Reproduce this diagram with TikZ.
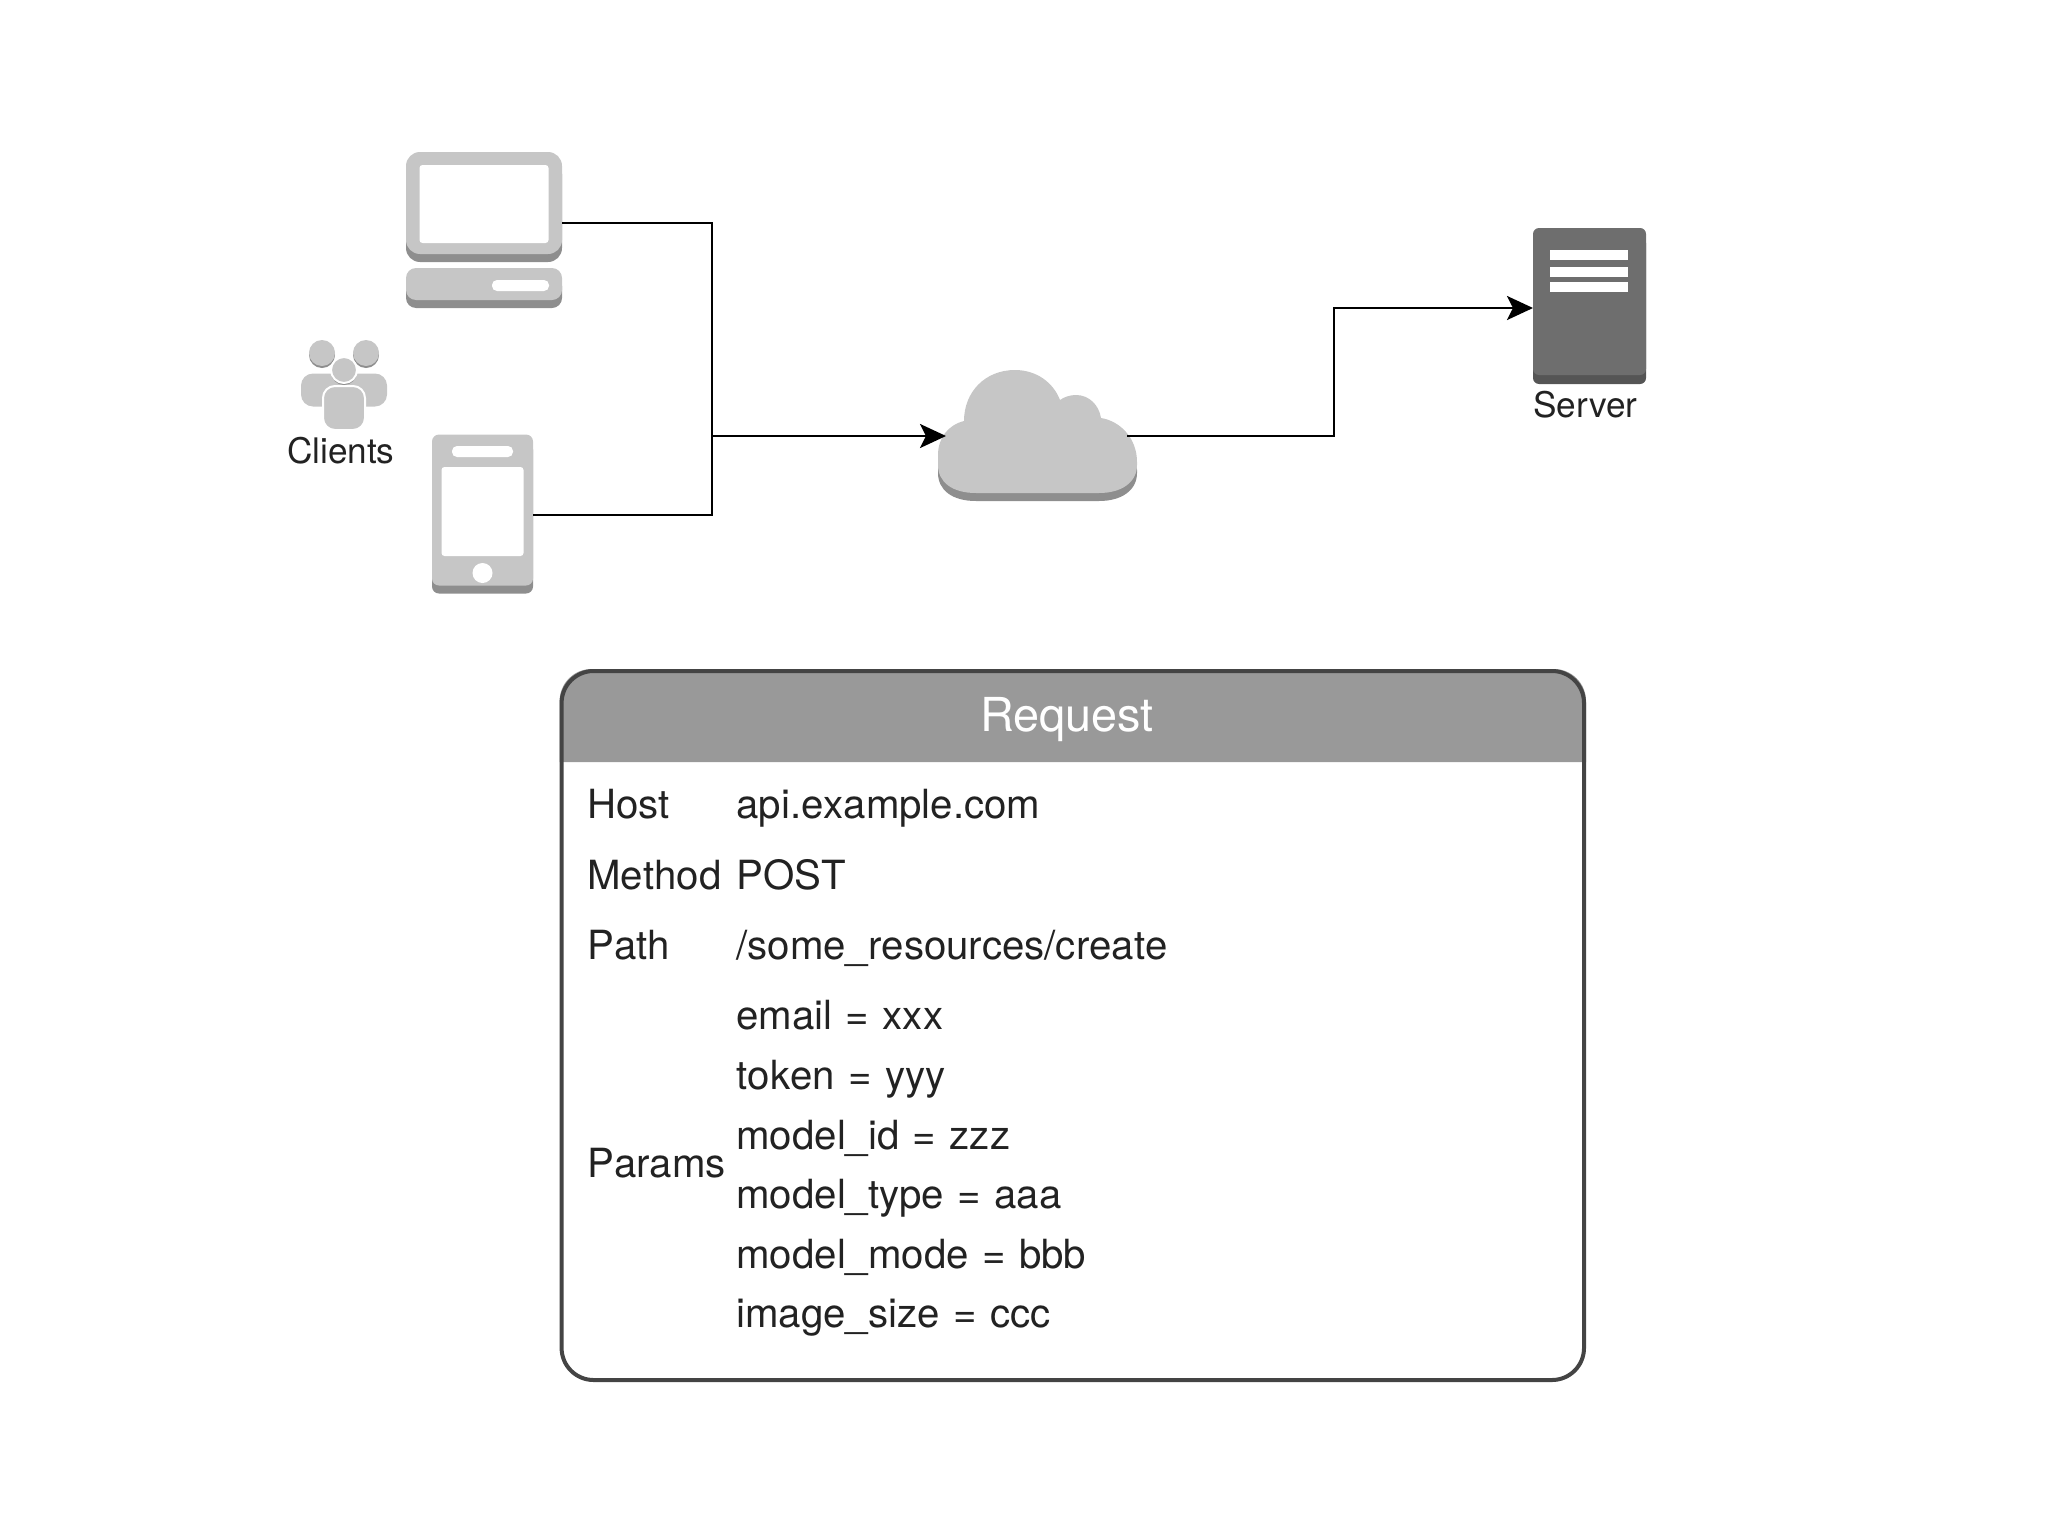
\documentclass[tikz,border=0pt]{standalone}
\usepackage{fontspec}
\setmainfont{TeX Gyre Heros}
\usetikzlibrary{arrows.meta,shadows,backgrounds}
\definecolor{iconfill}{HTML}{C6C6C6}
\definecolor{iconband}{HTML}{8E8E8E}
\definecolor{serverfill}{HTML}{6E6E6E}
\definecolor{serverband}{HTML}{555555}
\definecolor{headfill}{HTML}{999999}
\definecolor{panelline}{HTML}{444444}
\definecolor{inktext}{HTML}{222222}
\newcommand{\bodysize}{\fontsize{20.1pt}{29.8pt}\selectfont\addfontfeature{Kerning=Off}}
\tikzstyle{icon} = [rectangle, fill=iconfill, inner sep=0, outer sep=0, rounded corners=7pt, general shadow={shadow yshift=-4pt, fill=iconband, opacity=1}]
\tikzstyle{hole} = [rectangle, fill=white, inner sep=0, rounded corners=1.5pt]
\tikzstyle{slot} = [rectangle, fill=white, inner sep=0, rounded corners=2.5pt, minimum height=5.5pt]
\tikzstyle{bar} = [rectangle, fill=white, inner sep=0, minimum width=39pt, minimum height=5pt]
\tikzstyle{head} = [circle, fill=iconfill, inner sep=0, general shadow={shadow yshift=-1pt, fill=iconband, opacity=1}]
\tikzstyle{torso} = [rectangle, fill=iconfill, inner sep=0, rounded corners=6pt, minimum width=21pt]
\tikzstyle{caption} = [inner sep=0, text=inktext, font=\fontsize{17.6pt}{21pt}\selectfont]
\tikzstyle{hub} = [inner sep=0, outer sep=0, minimum width=90.5pt, minimum height=0pt]
\tikzstyle{panel} = [draw=panelline, line width=2pt, rectangle, rounded corners=16pt, minimum width=511.2pt, minimum height=354.5pt]
\tikzstyle{rowkey} = [inner sep=0, text=inktext, font=\bodysize, text width=70pt, align=left, text height=15pt, text depth=5pt]
\tikzstyle{rowval} = [inner sep=0, text=inktext, font=\bodysize, text width=220pt, align=left, text height=15pt, text depth=5pt]
\begin{document}
\begin{tikzpicture}[x=0.5pt, y=-0.5pt, >={Stealth[length=13pt,width=12pt,inset=3pt]}, line width=1.4pt]
    \useasboundingbox (0,0) rectangle (2048,1536);
    \node [icon, minimum width=78pt, minimum height=51pt] (monitor) at (484,203) {};
    \node [hole, minimum width=64.5pt, minimum height=39pt] (display) at (484,204) {};
    \node [icon, rounded corners=5pt, below of=monitor, node distance=40.5pt, minimum width=78pt, minimum height=16pt] (tower) {};
    \node [slot, right of=tower, node distance=18.25pt, minimum width=28.5pt, yshift=-0.75pt] (drive) {};

    \node [icon, rounded corners=3.5pt, below of=monitor, node distance=153.5pt, xshift=-0.75pt, minimum width=50.5pt, minimum height=75.5pt] (phone) {};
    \node [hole, minimum width=41pt, minimum height=44.5pt, below of=phone, node distance=0.75pt] (touch) {};
    \node [slot, minimum width=30.5pt, above of=phone, node distance=29.25pt] (speaker) {};
    \node [circle, fill=white, inner sep=0, minimum size=10pt, below of=phone, node distance=31.5pt] (button) {};

    \node [torso, minimum height=16.5pt] (torsoleft) at (322,390) {};
    \node [torso, minimum height=16.5pt, right of=torsoleft, node distance=22pt] (torsoright) {};
    \node [head, minimum size=13pt] (headleft) at (322,353) {};
    \node [head, minimum size=13pt, right of=headleft, node distance=22pt] (headright) {};
    \node [torso, draw=white, line width=1pt, minimum height=22pt] (torsofront) at (344,408) {};
    \node [head, draw=white, line width=1pt, minimum size=13pt] (headfront) at (344,370) {};
    \node [caption, below of=torsofront, node distance=21.5pt, xshift=-1.6pt] (clients) {Clients};

    \path [fill=iconfill, general shadow={shadow yshift=-4pt, fill=iconband, opacity=1}]
        (1099,493) -- (976,493) .. controls (952,493) and (938,482) .. (938,465) -- (938,455)
        .. controls (938,438) and (948,425) .. (964,421) .. controls (964,392) and (985,370) .. (1015,370)
        .. controls (1036,370) and (1053,382) .. (1060,400) .. controls (1064,397) and (1070,395) .. (1076,395)
        .. controls (1089,395) and (1099,405) .. (1101,418) .. controls (1120,421) and (1137,438) .. (1137,462)
        -- (1137,465) .. controls (1137,482) and (1122,493) .. (1099,493) -- cycle;
    \node [hub] (cloud) at (1036.5,436) {};
    \coordinate (merge) at (712,436);
    \coordinate (elbow) at (1334,370);

    \node [rectangle, fill=serverfill, inner sep=0, outer sep=0, rounded corners=3pt, minimum width=56.5pt, minimum height=73.5pt,
        general shadow={shadow yshift=-4.5pt, fill=serverband, opacity=1}] (server) at (1589.5,301.5) {};
    \node [bar, above of=server, node distance=23.25pt, xshift=-0.5pt] (barone) {};
    \node [bar, below of=barone, node distance=8.25pt] (bartwo) {};
    \node [bar, below of=bartwo, node distance=7.75pt] (barthree) {};
    \node [caption, below of=server, node distance=51.7pt, xshift=-2pt] (servername) {Server};

    \draw ([yshift=-10pt]monitor.east) -| (merge);
    \draw ([yshift=-2.5pt]phone.east) -| (merge);
    \draw [->] (merge) -- (cloud.west);
    \draw [->] (cloud.east) -| (elbow) |- ([yshift=-3.25pt]server.west);

    \node [panel] (request) at (1072.8,1025.5) {};
    \coordinate [above of=request, node distance=131.75pt] (rule);
    \begin{scope}[on background layer]
        \fill [headfill] (request.west |- rule) [rounded corners=16pt] -- (request.north west) -- (request.north east) [sharp corners] -- (request.east |- rule) -- cycle;
    \end{scope}
    \node [above of=request, node distance=153.2pt, xshift=-2.9pt, inner sep=0, text=white, font=\fontsize{23.4pt}{28pt}\selectfont] (title) {Request};

    \node [rowkey] (hostkey) at (657.3,808.3) {Host};
    \node [rowkey, below of=hostkey, node distance=35.7pt] (methodkey) {Method};
    \node [rowkey, below of=methodkey, node distance=35.1pt] (pathkey) {Path};
    \node [rowkey, below of=pathkey, node distance=108.8pt] (paramskey) {Params};
    \node [rowval, right of=hostkey, node distance=149.6pt] (hostval) {api.example.com};
    \node [rowval, right of=methodkey, node distance=149.6pt] (methodval) {POST};
    \node [rowval, right of=pathkey, node distance=149.6pt] (pathval) {/some\_resources/create};
    \node [inner sep=0, text=inktext, font=\bodysize, text width=220pt, align=left, below of=pathval, node distance=109.4pt] (paramsval)
        {email = xxx\\token = yyy\\model\_id = zzz\\model\_type = aaa\\model\_mode = bbb\\image\_size = ccc};
\end{tikzpicture}
\end{document}
